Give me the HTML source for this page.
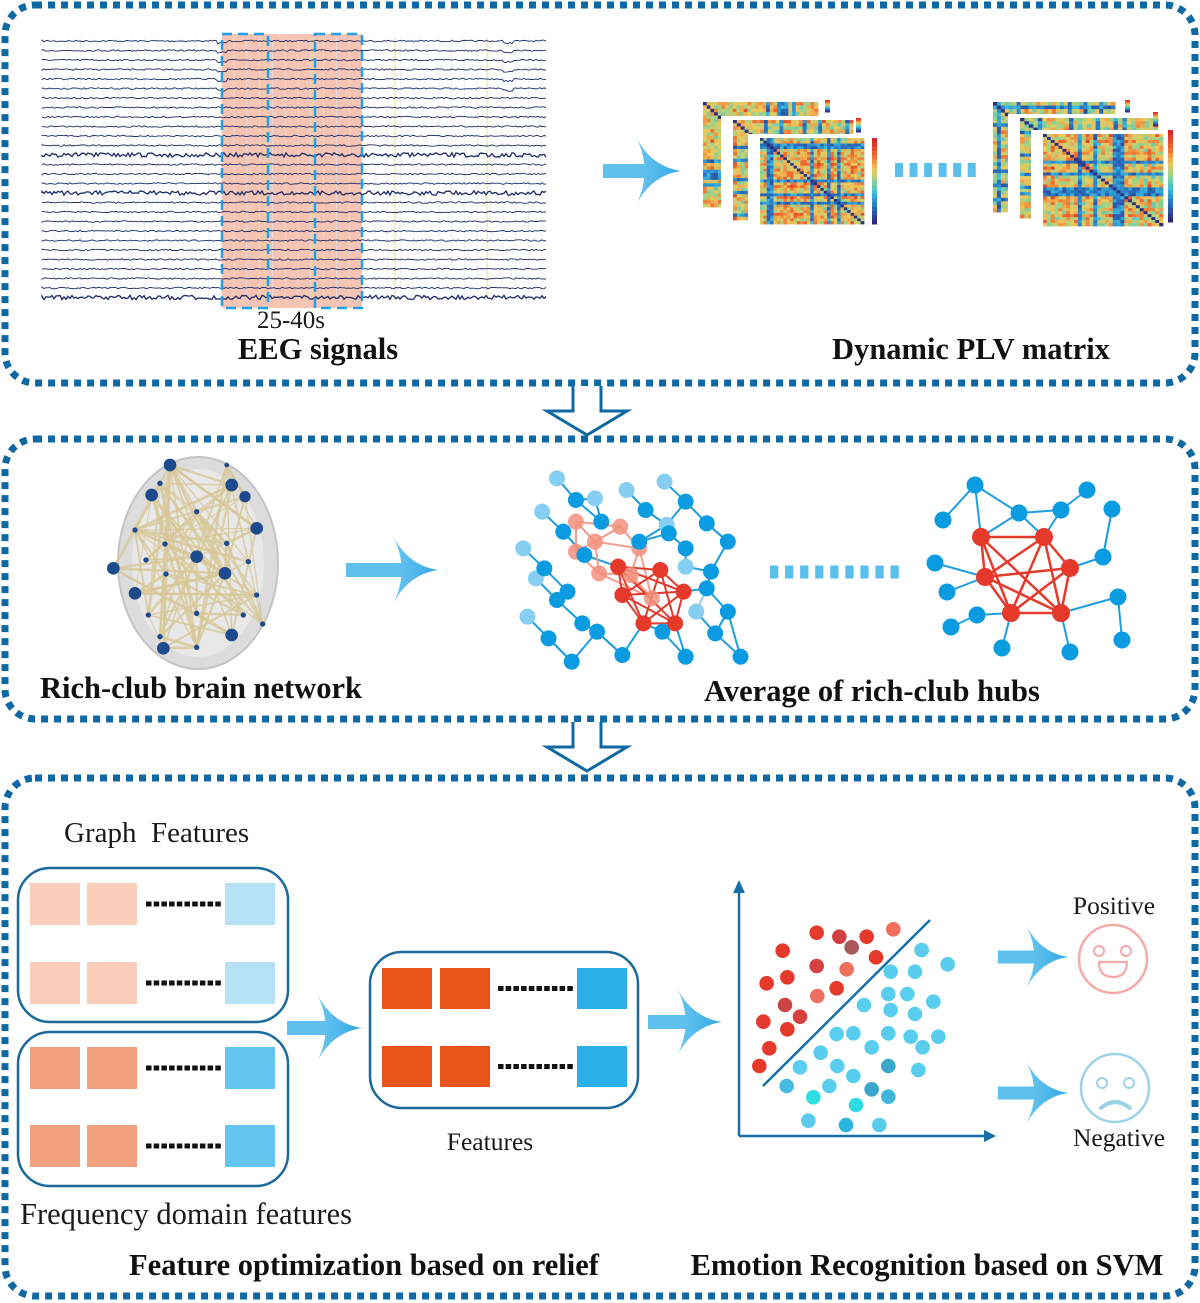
<!DOCTYPE html>
<html><head><meta charset="utf-8"><style>
html,body{margin:0;padding:0;background:#fff;}
svg{display:block;}
.t{font-family:"Liberation Serif",serif;fill:#1a1a1a;white-space:pre;}
.b{font-family:"Liberation Serif",serif;font-weight:bold;fill:#111;}
</style></head><body>
<svg id="s" width="1200" height="1303" viewBox="0 0 1200 1303" xmlns="http://www.w3.org/2000/svg">
<defs>
<linearGradient id="ag" x1="0" x2="1" y1="0" y2="0"><stop offset="0" stop-color="#6cc6ef"/><stop offset="1" stop-color="#2ea8e6"/></linearGradient>
</defs>
<g fill="none" stroke="#0d68a3" stroke-width="7" stroke-dasharray="7 6">
<rect x="5" y="5" width="1190" height="378" rx="30"/>
<rect x="5" y="439" width="1190" height="280" rx="30"/>
<rect x="5" y="778" width="1190" height="518" rx="30"/>
</g>
<g fill="#fff" stroke="#0d68a3" stroke-width="3">
<path d="M573 386 L573 411 L547 411 L587 435 L627 411 L601 411 L601 386"/>
<path d="M573 722 L573 747 L547 747 L587 771 L627 747 L601 747 L601 722"/>
</g>
<g id="eeg"></g>
<g id="plv"></g>
<g id="brain"></g>
<g id="net"></g>
<g id="bot">
<rect x="18" y="868" width="270" height="154" rx="32" fill="none" stroke="#1a6a9c" stroke-width="2.5"/>
<rect x="18" y="1032" width="270" height="154" rx="32" fill="none" stroke="#1a6a9c" stroke-width="2.5"/>
<rect x="370" y="952" width="268" height="156" rx="32" fill="none" stroke="#1a6a9c" stroke-width="2.5"/>
</g>
<g id="arr"></g>
<g id="svm"></g>
<text class="t" x="291" y="328" font-size="25" text-anchor="middle">25-40s</text>
<text class="b" x="318" y="359" font-size="30.5" text-anchor="middle">EEG signals</text>
<text class="b" x="971" y="359" font-size="30.5" text-anchor="middle">Dynamic PLV matrix</text>
<text class="b" x="40" y="698" font-size="30.5">Rich-club brain network</text>
<text class="b" x="872" y="701" font-size="30.5" text-anchor="middle">Average of rich-club hubs</text>
<text class="t" x="64" y="842" font-size="29">Graph&#160;&#160;Features</text>
<text class="t" x="20" y="1224" font-size="30.5">Frequency domain features</text>
<text class="t" x="490" y="1150" font-size="25.5" text-anchor="middle">Features</text>
<text class="t" x="1114" y="914" font-size="25.5" text-anchor="middle">Positive</text>
<text class="t" x="1119" y="1146" font-size="25.5" text-anchor="middle">Negative</text>
<text class="b" x="364" y="1275" font-size="30.5" text-anchor="middle">Feature optimization based on relief</text>
<text class="b" x="927" y="1275" font-size="30.5" text-anchor="middle">Emotion Recognition based on SVM</text>
</svg>
<script>
var NS="http://www.w3.org/2000/svg";
function el(p,n,a){var e=document.createElementNS(NS,n);for(var k in a)e.setAttribute(k,a[k]);p.appendChild(e);return e;}
var seed=7;function R(){seed=(seed*16807)%2147483647;return (seed-1)/2147483646;}
// EEG
var g=document.getElementById('eeg');
el(g,'rect',{x:222,y:34,width:140,height:274,fill:'#f6c4b2'});
for(var i=0;i<40;i++){var x=42+i*12.8;el(g,'line',{x1:x,y1:38,x2:x,y2:300,stroke:'#e3e6f0','stroke-width':0.6});}
[265,313,395,487].forEach(function(x){el(g,'line',{x1:x,y1:38,x2:x,y2:300,stroke:'#e8dc9a','stroke-width':1});});
for(var r=0;r<28;r++){var y0=41+r*9.5;var amp=(r==16||r==27||r==12)?2.2:0.8;var d='M42 '+y0;
for(var x=42;x<=547;x+=2){var y=y0+(R()-0.5)*amp*2;if(r<6&&(Math.abs(x-222)<5||Math.abs(x-508)<5))y+=2;d+=' L'+x+' '+y.toFixed(1);}
el(g,'path',{d:d,fill:'none',stroke:'#1e2a66','stroke-width':(r==16||r==27||r==12)?1.3:0.9});}
el(g,'rect',{x:222,y:34,width:46,height:274,fill:'none',stroke:'#1fa0e8','stroke-width':2.5,'stroke-dasharray':'10 6'});
el(g,'rect',{x:315,y:34,width:47,height:274,fill:'none',stroke:'#1fa0e8','stroke-width':2.5,'stroke-dasharray':'10 6'});
// arrows
var ga=document.getElementById('arr');
function arrow(x0,x1,y,h){var hw=h*2.4,hl=h*2.6;var b=x1-hl;
el(ga,'rect',{x:x0,y:y-h/2,width:b-x0+h,height:h,fill:'#5fc0ee'});
el(ga,'path',{d:'M'+(b-h*0.6)+' '+(y-hw)+' Q'+(b+h*0.5)+' '+(y-h*0.3)+' '+x1+' '+y+' Q'+(b+h*0.5)+' '+(y+h*0.3)+' '+(b-h*0.6)+' '+(y+hw)+' Q'+(b+h*0.6)+' '+y+' '+(b-h*0.6)+' '+(y-hw)+'Z',fill:'url(#ag)'});}
arrow(603,681,171,14);arrow(346,438,570,14);arrow(287,362,1028,14);arrow(648,722,1022,14);arrow(998,1068,957,13);arrow(998,1068,1093,13);
function dashes(x0,x1,y,h,n){var w=(x1-x0)/(n*2-1);for(var i=0;i<n;i++)el(ga,'rect',{x:x0+i*2*w,y:y-h/2,width:w*1.1,height:h,fill:'#5bbfec'});}
dashes(895,975,170,14,6);dashes(770,898,572,13,9);
// PLV
var gp=document.getElementById('plv');
function jet(v){var stops=[[0,[48,40,120]],[0.2,[40,120,200]],[0.35,[60,190,220]],[0.5,[150,210,140]],[0.65,[240,200,90]],[0.8,[240,110,50]],[1,[215,40,35]]];
for(var i=1;i<stops.length;i++){if(v<=stops[i][0]){var a=stops[i-1],b=stops[i],t=(v-a[0])/(b[0]-a[0]);return 'rgb('+[0,1,2].map(function(k){return Math.round(a[1][k]+(b[1][k]-a[1][k])*t)}).join(',')+')';}}return 'rgb(215,40,35)';}
function mat(x,y,w,h,n){el(gp,'rect',{x:x-12,y:y-4,width:w+16,height:h+14,fill:'#fff'});
var M=[],low={};for(var k=0;k<5;k++)low[Math.floor(R()*n)]=1;
var base=[];for(var i=0;i<n;i++)base[i]=R();
for(var i=0;i<n;i++){M[i]=[];for(var j=0;j<n;j++){if(j<i){M[i][j]=M[j][i];continue;}var v=0.35+0.3*(base[i]+base[j])/2+R()*0.3;if(low[i]||low[j])v=0.1+R()*0.25;if(i==j)v=0.02;M[i][j]=v;}}
var cw=w/n,ch=h/n;for(var i=0;i<n;i++)for(var j=0;j<n;j++)el(gp,'rect',{x:(x+j*cw).toFixed(2),y:(y+i*ch).toFixed(2),width:(cw+0.4).toFixed(2),height:(ch+0.4).toFixed(2),fill:jet(M[i][j])});
}
function cbar(x,y,h){for(var i=0;i<20;i++)el(gp,'rect',{x:x,y:y+i*h/20,width:5,height:h/20+0.5,fill:jet(1-i/19)});}
mat(703,102,115,105,31);cbar(825,100,12);
mat(733,120,120,100,31);cbar(856,118,14);
mat(760,138,104,86,31);cbar(872,138,86);
mat(993,102,122,110,31);cbar(1125,100,12);
mat(1020,118,138,100,31);cbar(1153,112,14);
mat(1043,134,120,92,31);cbar(1168,130,92);
// brain
var gb=document.getElementById('brain');
el(gb,'ellipse',{cx:198,cy:563,rx:80,ry:106,fill:'#dcdcdc',stroke:'#c4c4c4','stroke-width':2});
el(gb,'ellipse',{cx:198,cy:563,rx:66,ry:94,fill:'#e8e8e8'});
var bn=[[240,45,16],[185,135,16],[425,105,16],[465,140,14],[500,235,16],[320,320,16],[405,370,16],[70,355,16],[135,430,16],[425,555,16],[220,595,16],[210,100,5],[320,185,5],[135,240,5],[225,282,5],[410,280,5],[168,330,5],[475,335,5],[228,372,5],[500,435,5],[175,495,5],[320,490,5],[460,495,5],[518,522,5],[210,560,5],[320,592,5],[410,45,4]].map(function(p){return [90+p[0]/3,450+p[1]/3,p[2]/3];});
for(var k=0;k<110;k++){var a=bn[Math.floor(R()*bn.length)],b=bn[Math.floor(R()*bn.length)];el(gb,'line',{x1:a[0],y1:a[1],x2:b[0],y2:b[1],stroke:'#d8c89a','stroke-width':1+R()*2,opacity:0.8});}
bn.forEach(function(p){el(gb,'circle',{cx:p[0],cy:p[1],r:p[2]+1,fill:'#1d4a8c'});});
// networks
var gn=document.getElementById('net');
function cv(a){return a.map(function(p){return [500+p[0]/2.37,460+p[1]/3];});}
var lb=cv([[135,55],[300,90],[390,65],[100,155],[225,115],[55,265],[85,355],[65,470],[440,320],[465,455],[395,195]]);
var bl=cv([[180,120],[345,150],[440,125],[240,185],[150,215],[330,245],[200,285],[400,220],[440,265],[490,190],[540,245],[500,335],[105,325],[160,395],[135,420],[490,385],[195,490],[230,515],[385,515],[510,520],[540,455],[115,535],[170,605],[290,585],[440,590],[570,590]]);
var rl=cv([[180,185],[225,245],[180,275],[235,340],[310,345],[360,415],[285,200],[330,265]]);
var rd=cv([[280,320],[380,330],[290,405],[435,395],[340,490],[415,490]]);
var all=lb.concat(bl);
function near(p,arr,k){return arr.filter(function(q){return q!==p;}).sort(function(a,b){return Math.hypot(a[0]-p[0],a[1]-p[1])-Math.hypot(b[0]-p[0],b[1]-p[1]);}).slice(0,k);}
lb.forEach(function(p){near(p,all,1).forEach(function(q){el(gn,'line',{x1:p[0],y1:p[1],x2:q[0],y2:q[1],stroke:'#8fd0f2','stroke-width':2});});});
bl.forEach(function(p){near(p,all.concat(rd),2).forEach(function(q){el(gn,'line',{x1:p[0],y1:p[1],x2:q[0],y2:q[1],stroke:'#1f9ee0','stroke-width':2});});});
rl.forEach(function(p){near(p,rl,3).forEach(function(q){el(gn,'line',{x1:p[0],y1:p[1],x2:q[0],y2:q[1],stroke:'#f3a090','stroke-width':2});});});
for(var i=0;i<rd.length;i++)for(var j=i+1;j<rd.length;j++)el(gn,'line',{x1:rd[i][0],y1:rd[i][1],x2:rd[j][0],y2:rd[j][1],stroke:'#e33a2c','stroke-width':2});
lb.forEach(function(p){el(gn,'circle',{cx:p[0],cy:p[1],r:8,fill:'#86cff3'});});
rl.forEach(function(p){el(gn,'circle',{cx:p[0],cy:p[1],r:8,fill:'#f3907e',opacity:0.85});});
bl.forEach(function(p){el(gn,'circle',{cx:p[0],cy:p[1],r:8,fill:'#0b9be0'});});
rd.forEach(function(p){el(gn,'circle',{cx:p[0],cy:p[1],r:8,fill:'#e5392b'});});
var RB={a:[975,485],b:[943,520],c:[1019,513],d:[1061,510],e:[1087,490],f:[1112,509],g:[1103,557],h:[935,563],i:[947,592],j:[977,615],k:[951,627],l:[1002,648],m:[1070,652],n:[1118,597],o:[1122,640]};
var RR=[[981,537],[1044,537],[1070,568],[985,577],[1011,613],[1061,613]];
var E=[['a','b'],['a','c'],['c','d'],['d','e'],['f','g'],['j','k']],E2=[['a',0],['c',0],['c',1],['d',1],['g',2],['h',3],['i',3],['j',4],['l',4],['m',5],['n',5]];
E.forEach(function(e){el(gn,'line',{x1:RB[e[0]][0],y1:RB[e[0]][1],x2:RB[e[1]][0],y2:RB[e[1]][1],stroke:'#1f9ee0','stroke-width':2});});
E2.forEach(function(e){el(gn,'line',{x1:RB[e[0]][0],y1:RB[e[0]][1],x2:RR[e[1]][0],y2:RR[e[1]][1],stroke:'#1f9ee0','stroke-width':2});});
el(gn,'line',{x1:1118,y1:597,x2:1122,y2:640,stroke:'#1f9ee0','stroke-width':2});
el(gn,'line',{x1:1103,y1:557,x2:1112,y2:509,stroke:'#1f9ee0','stroke-width':2});
for(var i=0;i<6;i++)for(var j=i+1;j<6;j++)if(!(i==0&&j==2)&&!(i==3&&j==1))el(gn,'line',{x1:RR[i][0],y1:RR[i][1],x2:RR[j][0],y2:RR[j][1],stroke:'#e5392b','stroke-width':2.5});
for(var k in RB)el(gn,'circle',{cx:RB[k][0],cy:RB[k][1],r:8.5,fill:'#0b9be0'});
RR.forEach(function(p){el(gn,'circle',{cx:p[0],cy:p[1],r:9,fill:'#e5392b'});});
// feature squares
var gq=document.getElementById('bot');
function row(x,y,c1,c2,w,h){el(gq,'rect',{x:x,y:y,width:w,height:h,fill:c1});el(gq,'rect',{x:x+57,y:y,width:w,height:h,fill:c1});
for(var i=0;i<10;i++)el(gq,'rect',{x:x+116+i*7.7,y:y+h/2-2.5,width:5.5,height:5,fill:'#111'});
el(gq,'rect',{x:x+195,y:y,width:w,height:h,fill:c2});}
row(30,883,'#f9cdb9','#b5e2f6',50,42);row(30,962,'#f9cdb9','#b5e2f6',50,42);
row(30,1047,'#f0a07c','#62c4ef',50,42);row(30,1125,'#f0a07c','#62c4ef',50,42);
(function(){var x=382;[[968],[1046]].forEach(function(r){var y=r[0];el(gq,'rect',{x:x,y:y,width:50,height:41,fill:'#e9541b'});el(gq,'rect',{x:x+58,y:y,width:50,height:41,fill:'#e9541b'});
for(var i=0;i<10;i++)el(gq,'rect',{x:x+116+i*7.7,y:y+18,width:5.5,height:5,fill:'#111'});el(gq,'rect',{x:x+195,y:y,width:50,height:41,fill:'#2cb0e9'});});})();
// svm
var gs=document.getElementById('svm');
el(gs,'path',{d:'M739 1136 L739 888 M988 1136 L739 1136',stroke:'#1670a8','stroke-width':2.5,fill:'none'});
el(gs,'path',{d:'M733 893 L739 880 L745 893 Z M984 1130 L996 1136 L984 1142 Z',fill:'#1670a8'});
el(gs,'line',{x1:763,y1:1086,x2:930,y2:920,stroke:'#1670a8','stroke-width':2.5});
function cs(a,c){a.forEach(function(p){el(gs,'circle',{cx:720+p[0]/3,cy:870+p[1]/3,r:7.3,fill:p[2]||c});});}
cs([[290,188],[358,200,'#cf4040'],[440,200],[188,242],[395,232,'#a85858'],[468,262],[290,288,'#d54040'],[380,298,'#f07060'],[520,178,'#f27060'],[140,340],[202,322],[350,355],[292,378,'#f07060'],[195,405,'#cc4545'],[240,440,'#d84040'],[130,455],[202,478],[148,535],[118,588]],'#e5392b');
cs([[605,240],[683,283],[512,305],[585,305],[505,372],[562,372],[640,395],[432,405],[512,420],[585,432],[350,492],[400,490],[505,490],[572,500],[655,500],[455,532],[608,532],[302,548],[240,592],[352,588],[505,588,'#3aa8c8'],[595,600],[400,618],[200,648,'#48bce0'],[328,648],[455,658,'#3aa6cc'],[505,680,'#40b6dc'],[280,682,'#2edde0'],[408,705,'#2edde0'],[265,752],[378,765,'#2cb4e0'],[478,765]],'#58cdee');
el(gs,'circle',{cx:1113,cy:959,r:34,fill:'none',stroke:'#f4aaa8','stroke-width':2.5});
el(gs,'circle',{cx:1099,cy:951,r:5,fill:'none',stroke:'#f4aaa8','stroke-width':2});
el(gs,'circle',{cx:1126,cy:951,r:5,fill:'none',stroke:'#f4aaa8','stroke-width':2});
el(gs,'path',{d:'M1099 962 L1127 962 Q1127 977 1113 977 Q1099 977 1099 962 Z',fill:'none',stroke:'#f4aaa8','stroke-width':2.2});
el(gs,'circle',{cx:1115,cy:1088,r:34,fill:'none',stroke:'#9cd3e4','stroke-width':2.5});
el(gs,'circle',{cx:1102,cy:1083,r:5,fill:'none',stroke:'#9cd3e4','stroke-width':2});
el(gs,'circle',{cx:1129,cy:1083,r:5,fill:'none',stroke:'#9cd3e4','stroke-width':2});
el(gs,'path',{d:'M1101 1108 Q1115 1096 1130 1108',fill:'none',stroke:'#9cd3e4','stroke-width':4,'stroke-linecap':'round'});
</script>
</body></html>
